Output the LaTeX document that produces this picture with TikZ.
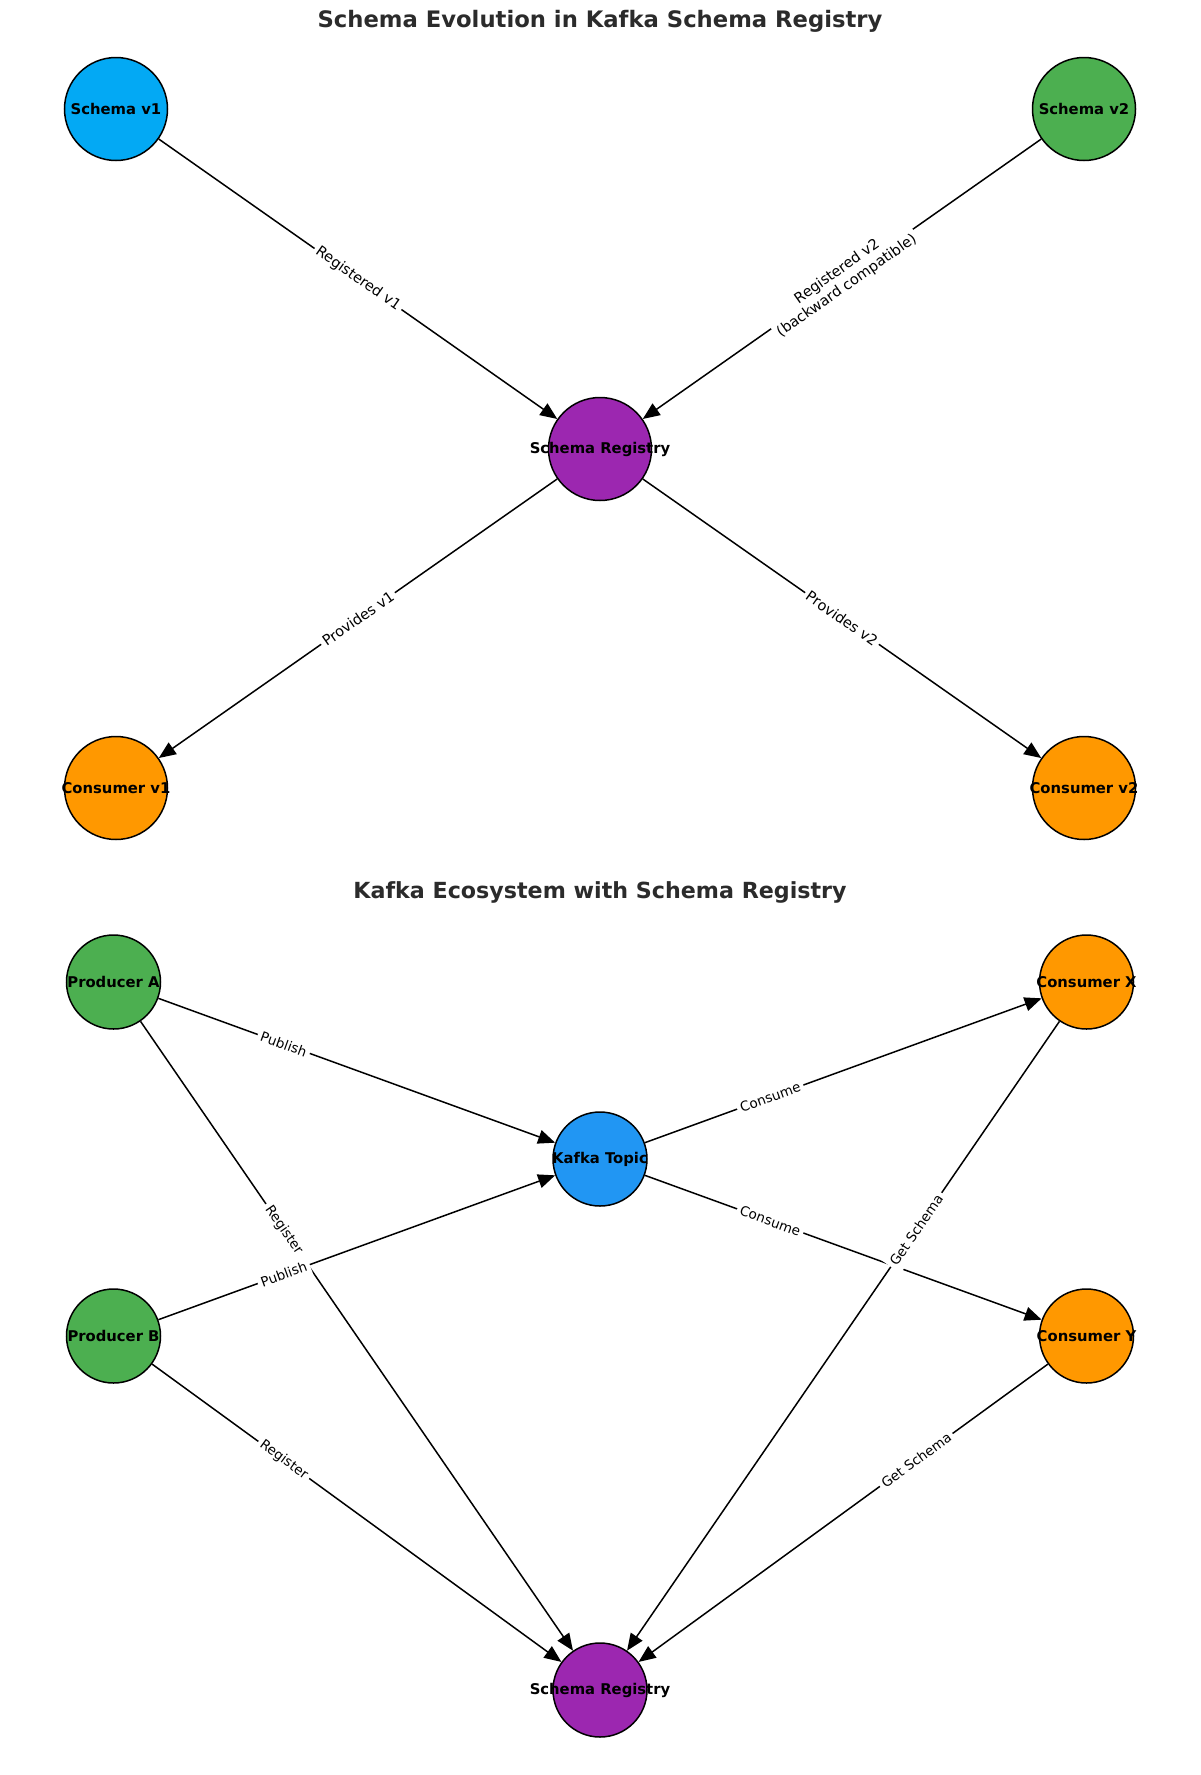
\documentclass[tikz,border=0pt]{standalone}
\usepackage{fontspec}
\setmainfont{DejaVu Sans}
\usetikzlibrary{arrows.meta}

\definecolor{schemablue}{HTML}{03A9F4}
\definecolor{kafkablue}{HTML}{2196F3}
\definecolor{groupgreen}{HTML}{4CAF50}
\definecolor{regpurple}{HTML}{9C27B0}
\definecolor{consorange}{HTML}{FF9800}
\definecolor{titlegray}{HTML}{2B2B2B}

\tikzset{
  bignode/.style={circle, draw=black, line width=1.5pt, minimum size=103pt, inner sep=0pt},
  smallnode/.style={circle, draw=black, line width=1.5pt, minimum size=94pt, inner sep=0pt},
  nodetext/.style={font=\fontsize{14.8}{18}\selectfont\bfseries, text=black, inner sep=0pt},
  titletext/.style={font=\fontsize{22.7}{27}\selectfont\bfseries, text=titlegray},
  edgearrow/.style={draw=black, line width=1.5pt, -{Triangle[length=17pt,width=14pt]}},
  biglabel/.style={sloped, fill=white, inner xsep=3pt, inner ysep=4pt, align=center, font=\fontsize{14.5}{17}\selectfont},
  smalllabel/.style={sloped, fill=white, inner xsep=3.5pt, inner ysep=6.5pt, font=\fontsize{13.5}{16}\selectfont}
}

\begin{document}
\begin{tikzpicture}[x=1pt, y=-1pt]
  \useasboundingbox (0,0) rectangle (1200,1775);

  % === Schema Evolution (Top) ===
  \node[titletext] (titleA) at (600,21.5) {Schema Evolution in Kafka Schema Registry};

  \node[bignode, fill=schemablue, label={[nodetext]center:Schema v1}] (schemaA) at (116,109) {};
  \node[bignode, fill=groupgreen, label={[nodetext]center:Schema v2}] (schemaB) at (1084,109) {};
  \node[bignode, fill=regpurple, label={[nodetext]center:Schema Registry}] (regA) at (600,449) {};
  \node[bignode, fill=consorange, label={[nodetext]center:Consumer v1}] (consA) at (116,788) {};
  \node[bignode, fill=consorange, label={[nodetext]center:Consumer v2}] (consB) at (1084,788) {};

  \foreach \src/\dst in {schemaA/regA, schemaB/regA, regA/consA, regA/consB} {
    \draw[edgearrow] (\src) -- (\dst);
  }

  \path (schemaA.center) -- node[biglabel] {Registered v1} (regA.center);
  \path (schemaB.center) -- node[biglabel] {Registered v2\\(backward compatible)} (regA.center);
  \path (regA.center) -- node[biglabel] {Provides v1} (consA.center);
  \path (regA.center) -- node[biglabel] {Provides v2} (consB.center);

  % === Kafka Ecosystem (Bottom) ===
  \node[titletext, font=\fontsize{22.2}{27}\selectfont\bfseries] (titleB) at (600,892) {Kafka Ecosystem with Schema Registry};

  \node[smallnode, fill=groupgreen, label={[nodetext]center:Producer A}] (prodA) at (113.5,982) {};
  \node[smallnode, fill=groupgreen, label={[nodetext]center:Producer B}] (prodB) at (113.5,1336) {};
  \node[smallnode, fill=kafkablue, label={[nodetext]center:Kafka Topic}] (topic) at (600,1159) {};
  \node[smallnode, fill=consorange, label={[nodetext]center:Consumer X}] (consX) at (1086.5,982) {};
  \node[smallnode, fill=consorange, label={[nodetext]center:Consumer Y}] (consY) at (1086.5,1336) {};
  \node[smallnode, fill=regpurple, label={[nodetext]center:Schema Registry}] (regB) at (600,1690) {};

  \foreach \src/\dst in {prodA/topic, prodB/topic, topic/consX, topic/consY, prodA/regB, prodB/regB, consX/regB, consY/regB} {
    \draw[edgearrow] (\src) -- (\dst);
  }

  % labels go last, they break the crossing lines
  \foreach \src/\dst/\lab in {prodA/topic/Publish, prodB/topic/Publish, topic/consX/Consume, topic/consY/Consume,
                              prodA/regB/Register, prodB/regB/Register, consX/regB/Get Schema, consY/regB/Get Schema} {
    \path (\src.center) -- node[smalllabel, pos=0.35] {\lab} (\dst.center);
  }

\end{tikzpicture}
\end{document}
